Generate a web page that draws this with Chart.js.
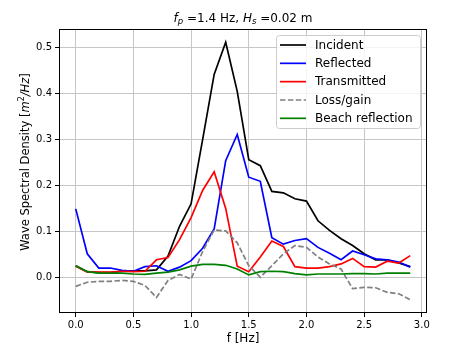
<!DOCTYPE html>
<html>
<head>
<meta charset="utf-8">
<script src="https://cdn.jsdelivr.net/npm/chart.js@4/dist/chart.umd.min.js"></script>
<style>
html,body{margin:0;padding:0;background:#fff;}
#c{display:block;}
</style>
</head>
<body>
<canvas id="c" width="474" height="355"></canvas>
<script>
const freq = [0.0,0.1,0.2,0.3,0.4,0.5,0.6,0.7,0.8,0.9,1.0,1.1,1.2,1.3,1.4,1.5,1.6,1.7,1.8,1.9,2.0,2.1,2.2,2.3,2.4,2.5,2.6,2.7,2.8,2.9];
const incident = [0.025,0.012,0.010,0.010,0.013,0.014,0.014,0.016,0.046,0.111,0.160,0.300,0.442,0.512,0.405,0.256,0.243,0.187,0.184,0.171,0.166,0.123,0.102,0.084,0.069,0.051,0.038,0.038,0.031,0.023];
const reflected = [0.149,0.051,0.020,0.020,0.015,0.013,0.023,0.025,0.013,0.022,0.036,0.063,0.105,0.254,0.311,0.218,0.209,0.086,0.072,0.080,0.084,0.065,0.052,0.038,0.057,0.049,0.040,0.038,0.033,0.022];
const transmitted = [0.024,0.011,0.011,0.011,0.013,0.012,0.013,0.038,0.043,0.082,0.130,0.189,0.230,0.150,0.024,0.012,0.044,0.079,0.067,0.023,0.020,0.020,0.023,0.029,0.041,0.023,0.022,0.035,0.031,0.047];
const lossGain = [-0.020,-0.011,-0.009,-0.009,-0.007,-0.009,-0.018,-0.044,-0.007,0.006,-0.004,0.056,0.103,0.101,0.075,0.025,0.000,0.025,0.051,0.069,0.065,0.044,0.029,0.018,-0.025,-0.022,-0.023,-0.033,-0.036,-0.049];
const beach = [0.025,0.012,0.009,0.009,0.009,0.007,0.006,0.009,0.011,0.016,0.024,0.028,0.028,0.026,0.018,0.005,0.012,0.013,0.012,0.008,0.005,0.007,0.007,0.007,0.008,0.008,0.007,0.009,0.009,0.009];
const seriesLabels = ['Incident','Reflected','Transmitted','Loss/gain','Beach reflection'];
const xTicks = [0.0,0.5,1.0,1.5,2.0,2.5,3.0];
const yTicks = [0.0,0.1,0.2,0.3,0.4,0.5];

const FONT = '"DejaVu Sans", sans-serif';
const colors = ['#000000','#0000ff','#ff0000','#808080','#008000'];
const allSeries = [incident, reflected, transmitted, lossGain, beach];

const datasets = allSeries.map((s, i) => ({
  label: seriesLabels[i],
  data: freq.map((f, j) => ({x: f, y: s[j]})),
  borderColor: colors[i],
  backgroundColor: colors[i],
  borderWidth: 1.7,
  borderDash: i === 3 ? [5.5, 2.4] : [],
  pointRadius: 0,
  fill: false,
  tension: 0,
  order: 4 - i
}));

function drawSegments(ctx, segs, cx, cy) {
  let total = 0;
  segs.forEach(s => { ctx.font = s.style + ' ' + s.size + 'px ' + FONT; s.w = ctx.measureText(s.t).width; total += s.w; });
  let x = cx - total / 2;
  ctx.textBaseline = 'middle';
  ctx.textAlign = 'left';
  segs.forEach(s => { ctx.font = s.style + ' ' + s.size + 'px ' + FONT; ctx.fillText(s.t, x, cy + (s.dy || 0)); x += s.w; });
}

const decor = {
  id: 'decor',
  afterDatasetsDraw(chart) {
    const ctx = chart.ctx, a = chart.chartArea;
    ctx.save();
    ctx.strokeStyle = '#000';
    ctx.lineWidth = 1;
    ctx.strokeRect(Math.round(a.left) + 0.5, Math.round(a.top) + 0.5, Math.round(a.right - a.left) - 1, Math.round(a.bottom - a.top) - 1);
    const lx = 276.5, ly = 35.5, lw = 144, lh = 93, r = 3;
    ctx.beginPath();
    ctx.moveTo(lx + r, ly);
    ctx.arcTo(lx + lw, ly, lx + lw, ly + lh, r);
    ctx.arcTo(lx + lw, ly + lh, lx, ly + lh, r);
    ctx.arcTo(lx, ly + lh, lx, ly, r);
    ctx.arcTo(lx, ly, lx + lw, ly, r);
    ctx.closePath();
    ctx.fillStyle = 'rgba(255,255,255,0.8)';
    ctx.fill();
    ctx.strokeStyle = '#cccccc';
    ctx.stroke();
    chart.data.datasets.forEach((d, i) => {
      const y = 45 + i * 18.33;
      ctx.beginPath();
      ctx.setLineDash(d.borderDash || []);
      ctx.strokeStyle = d.borderColor;
      ctx.lineWidth = 1.7;
      ctx.moveTo(280, y); ctx.lineTo(306, y);
      ctx.stroke();
      ctx.setLineDash([]);
      ctx.fillStyle = '#000';
      ctx.font = '12px ' + FONT;
      ctx.textBaseline = 'middle';
      ctx.textAlign = 'left';
      ctx.fillText(d.label, 315, y + 0.5);
    });
    ctx.restore();
  },
  afterDraw(chart) {
    const ctx = chart.ctx, a = chart.chartArea;
    ctx.save();
    ctx.fillStyle = '#000';
    drawSegments(ctx, [
      {t: 'f', style: 'italic', size: 12},
      {t: 'p', style: 'italic', size: 8.5, dy: 3},
      {t: ' =1.4 Hz, ', style: 'normal', size: 12},
      {t: 'H', style: 'italic', size: 12},
      {t: 's', style: 'italic', size: 8.5, dy: 3},
      {t: ' =0.02 m', style: 'normal', size: 12}
    ], 243, 18.5);
    drawSegments(ctx, [{t: 'f [Hz]', style: 'normal', size: 12}], (a.left + a.right) / 2, 338.5);
    ctx.translate(26, 162);
    ctx.rotate(-Math.PI / 2);
    drawSegments(ctx, [
      {t: 'Wave Spectral Density [', style: 'normal', size: 11.5},
      {t: 'm', style: 'italic', size: 11.5},
      {t: '2', style: 'normal', size: 8, dy: -4},
      {t: '/Hz', style: 'italic', size: 11.5},
      {t: ']', style: 'normal', size: 11.5}
    ], 0, 0);
    ctx.restore();
  }
};

new Chart(document.getElementById('c'), {
  type: 'line',
  data: { datasets },
  options: {
    responsive: false,
    animation: false,
    devicePixelRatio: 1,
    layout: { padding: { top: 29, right: 47, left: 0, bottom: 0 } },
    plugins: { legend: { display: false }, tooltip: { enabled: false }, title: { display: false } },
    scales: {
      x: {
        type: 'linear',
        min: -0.145, max: 3.045,
        afterBuildTicks: s => { s.ticks = xTicks.map(v => ({value: v})); },
        afterFit: s => { s.height = 42; },
        ticks: { font: { family: FONT, size: 10 }, color: '#000', padding: 2, maxRotation: 0,
                 callback: v => v.toFixed(1) },
        grid: { color: '#c6c6c6', lineWidth: 1, tickLength: 4, tickColor: '#000', drawTicks: true },
        border: { display: false }
      },
      y: {
        type: 'linear',
        min: -0.078, max: 0.541,
        afterBuildTicks: s => { s.ticks = yTicks.map(v => ({value: v})); },
        afterFit: s => { s.width = 59; },
        ticks: { font: { family: FONT, size: 10 }, color: '#000', padding: 3,
                 callback: v => v.toFixed(1) },
        grid: { color: '#c6c6c6', lineWidth: 1, tickLength: 4, tickColor: '#000', drawTicks: true },
        border: { display: false }
      }
    }
  },
  plugins: [decor]
});
</script>
</body>
</html>
